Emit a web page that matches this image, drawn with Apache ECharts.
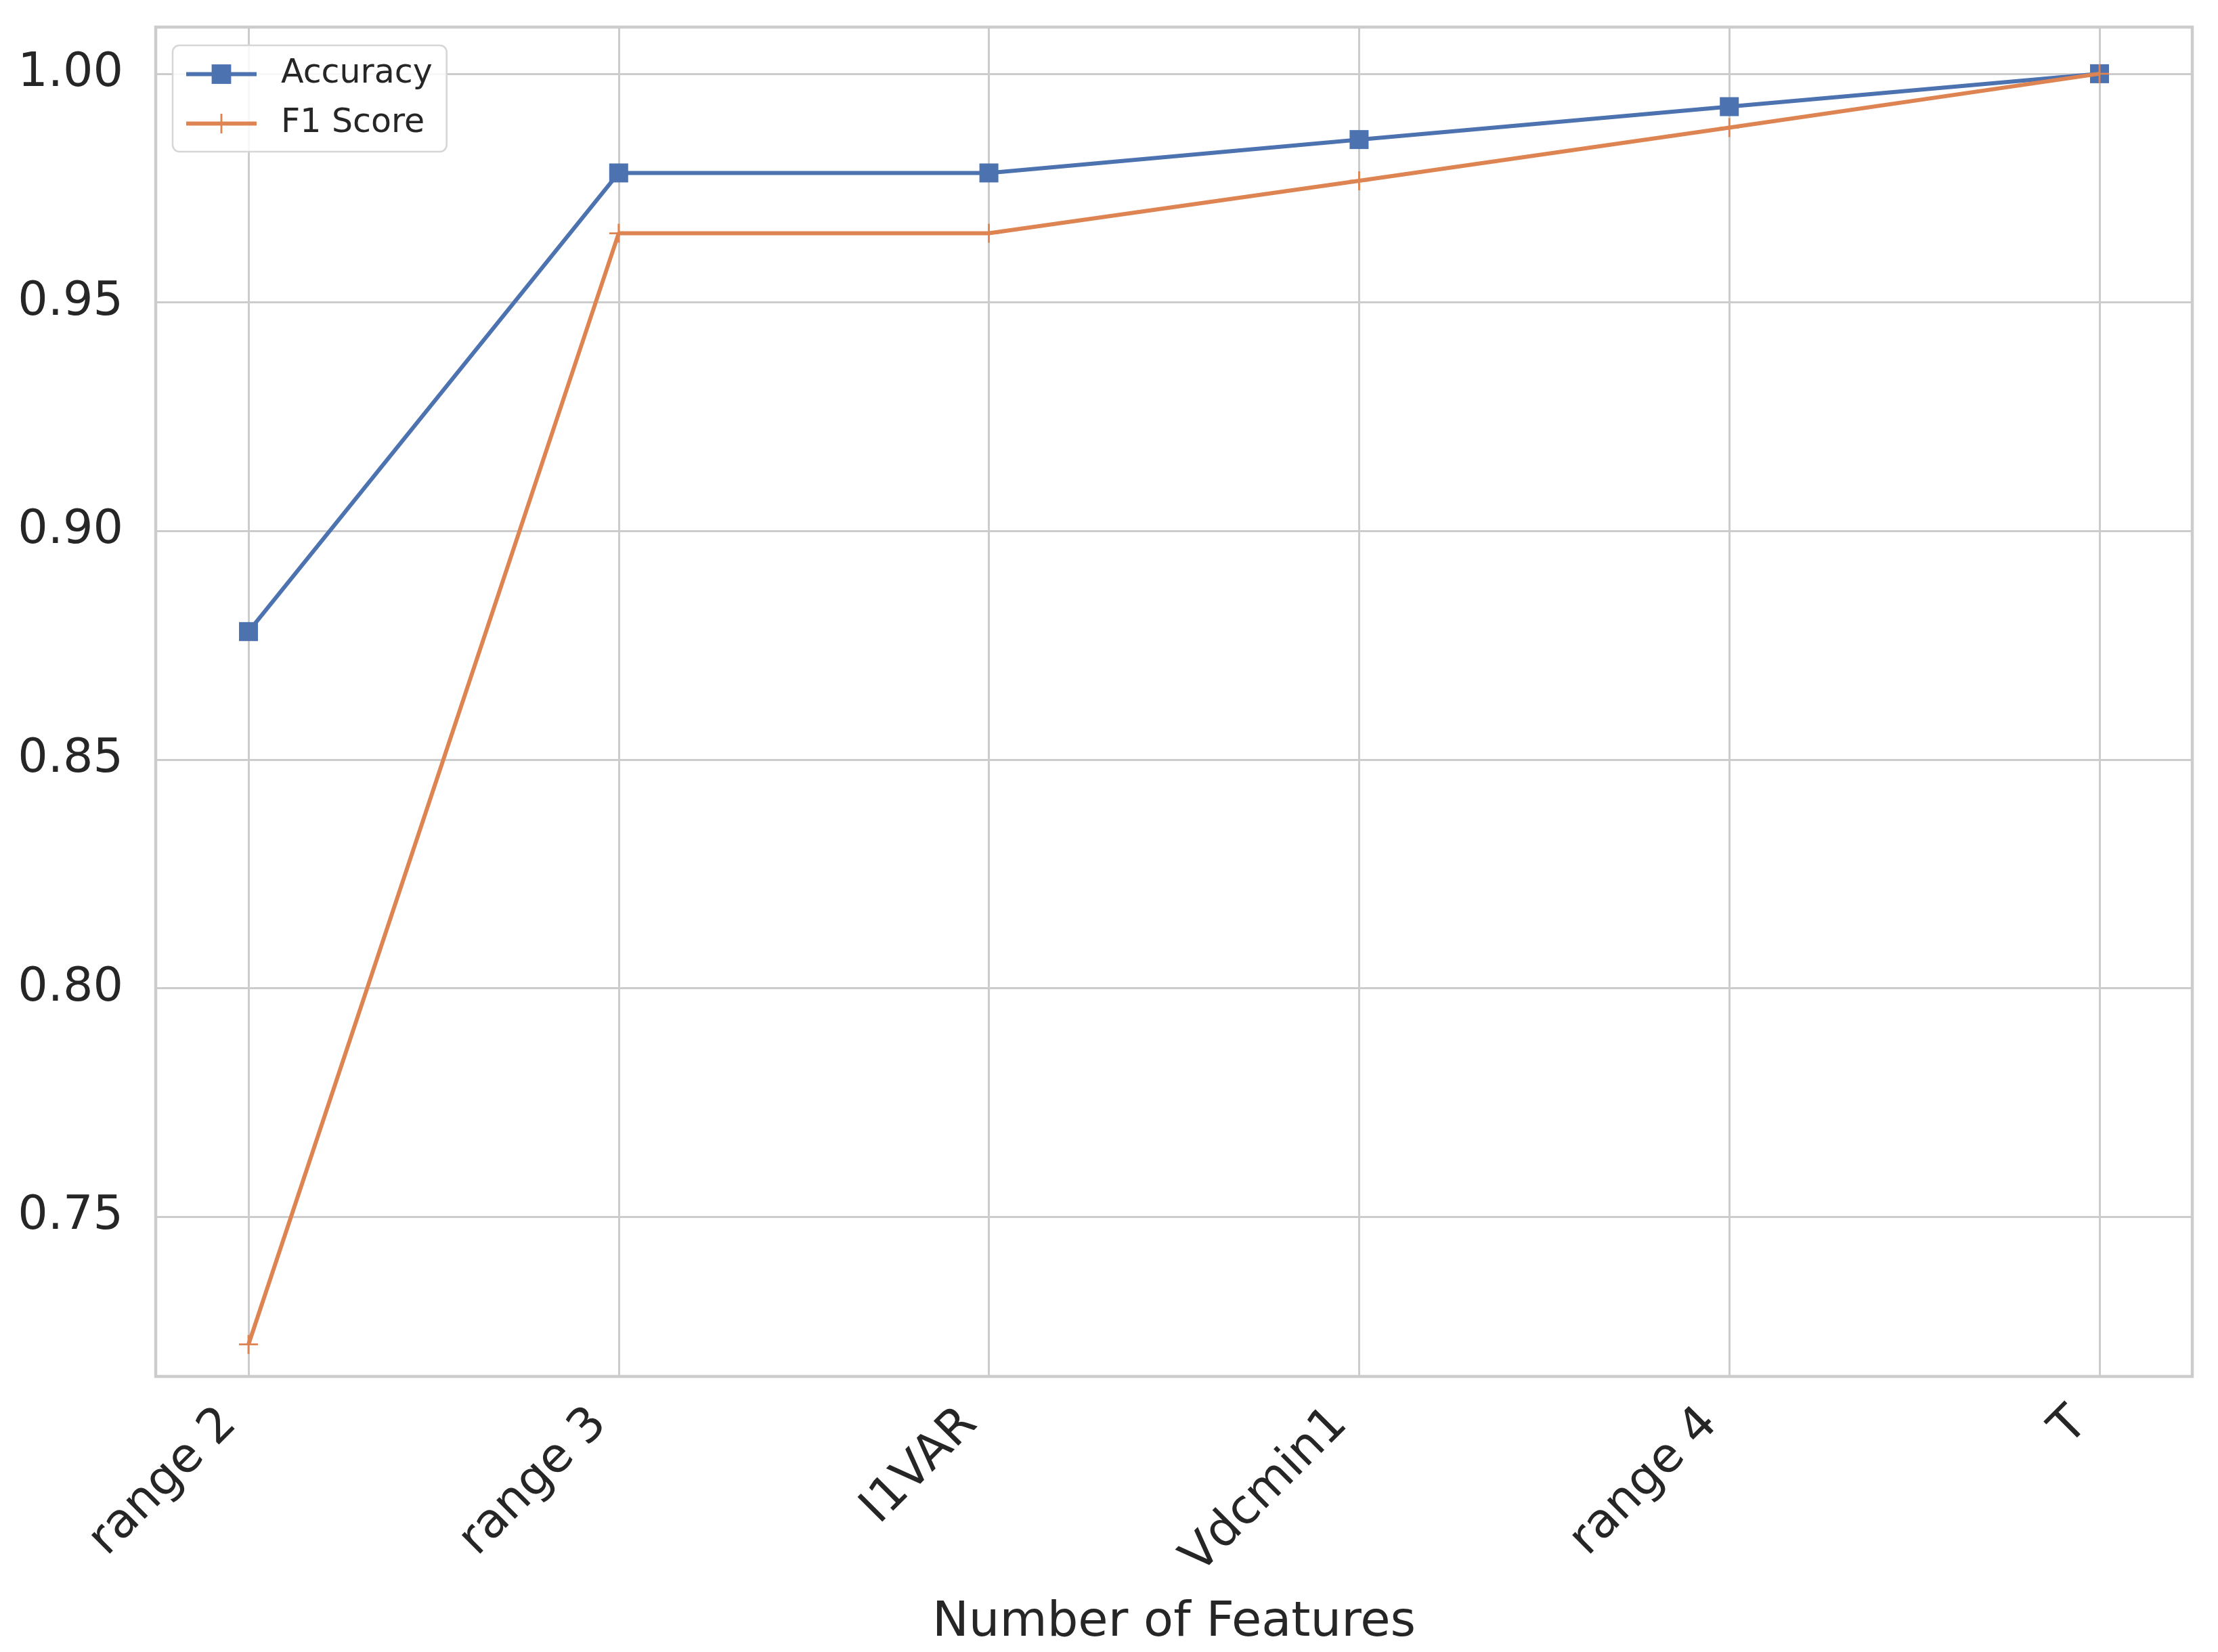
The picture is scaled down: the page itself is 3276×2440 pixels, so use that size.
<!DOCTYPE html>
<html>
<head>
<meta charset="utf-8">
<script src="https://cdn.jsdelivr.net/npm/echarts@6/dist/echarts.min.js"></script>
<style>
html,body{margin:0;padding:0;background:#fff;}
#chart{width:3276px;height:2440px;}
</style>
</head>
<body>
<div id="chart"></div>
<script>
// ---- data ----
const categories = ['range 2', 'range 3', 'I1VAR', 'Vdcmin1', 'range 4', 'T'];
const accuracy = [0.878, 0.9783, 0.9783, 0.9856, 0.9928, 1.0];
const f1Score = [0.7221, 0.9651, 0.9651, 0.9766, 0.9882, 1.0];
const seriesNames = ['Accuracy', 'F1 Score'];
const yRange = [0.7151, 1.0102];
const xAxisTitle = 'Number of Features';

const FONT = 'DejaVu Sans';
const TXT = '#262626';
const GRIDC = '#cccccc';
const plusPath = 'path://M0,13.5H13.5V0H16.5V13.5H30V16.5H16.5V30H13.5V16.5H0Z';

const chart = echarts.init(document.getElementById('chart'), null, {renderer: 'canvas'});
chart.setOption({
  animation: false,
  backgroundColor: '#ffffff',
  textStyle: {fontFamily: FONT, color: TXT},
  legend: {
    left: 255, top: 67,
    orient: 'vertical',
    itemWidth: 104, itemHeight: 36, itemGap: 24,
    padding: [18, 21, 17, 17],
    backgroundColor: 'rgba(255,255,255,0.85)',
    borderColor: '#d6d6d6', borderWidth: 2.5, borderRadius: 10,
    lineStyle: {width: 6},
    textStyle: {fontFamily: FONT, fontSize: 49, color: TXT, padding: [0, 0, 0, 31]},
    data: seriesNames
  },
  grid: [
    {left: 230, right: 38, top: 40, bottom: 407, show: true, borderColor: GRIDC, borderWidth: 4.5, backgroundColor: 'transparent'},
    {left: 367, right: 175, top: 40, bottom: 407}
  ],
  xAxis: [
    {type: 'value', gridIndex: 0, min: 0, max: 1, show: false},
    {type: 'category', gridIndex: 1, data: categories, boundaryGap: false,
     axisLine: {show: false}, axisTick: {show: false},
     splitLine: {show: true, lineStyle: {color: GRIDC, width: 3}},
     axisLabel: {rotate: 45, fontSize: 71, color: TXT, fontFamily: FONT, margin: 31, padding: [0, 40, 0, 0], interval: 0},
     name: xAxisTitle, nameLocation: 'middle', nameGap: 328,
     nameTextStyle: {fontSize: 72, color: TXT, fontFamily: FONT}}
  ],
  yAxis: [
    {type: 'value', gridIndex: 0, min: yRange[0], max: yRange[1], splitNumber: 6,
     axisLine: {show: false}, axisTick: {show: false},
     splitLine: {show: true, lineStyle: {color: GRIDC, width: 3}},
     axisLabel: {fontSize: 70, color: TXT, fontFamily: FONT, margin: 48,
       showMinLabel: false, showMaxLabel: false,
       formatter: v => v.toFixed(2)}},
    {type: 'value', gridIndex: 1, min: yRange[0], max: yRange[1], show: false}
  ],
  series: [
    {name: seriesNames[0], type: 'line', xAxisIndex: 1, yAxisIndex: 1, data: accuracy,
     symbol: 'rect', symbolSize: 28, showAllSymbol: true,
     lineStyle: {color: '#4C72B0', width: 6},
     itemStyle: {color: '#4C72B0'}, z: 3},
    {name: seriesNames[1], type: 'line', xAxisIndex: 1, yAxisIndex: 1, data: f1Score,
     symbol: plusPath, symbolSize: 28, showAllSymbol: true,
     lineStyle: {color: '#DD8452', width: 6},
     itemStyle: {color: '#DD8452'}, z: 4}
  ]
});
</script>
</body>
</html>
